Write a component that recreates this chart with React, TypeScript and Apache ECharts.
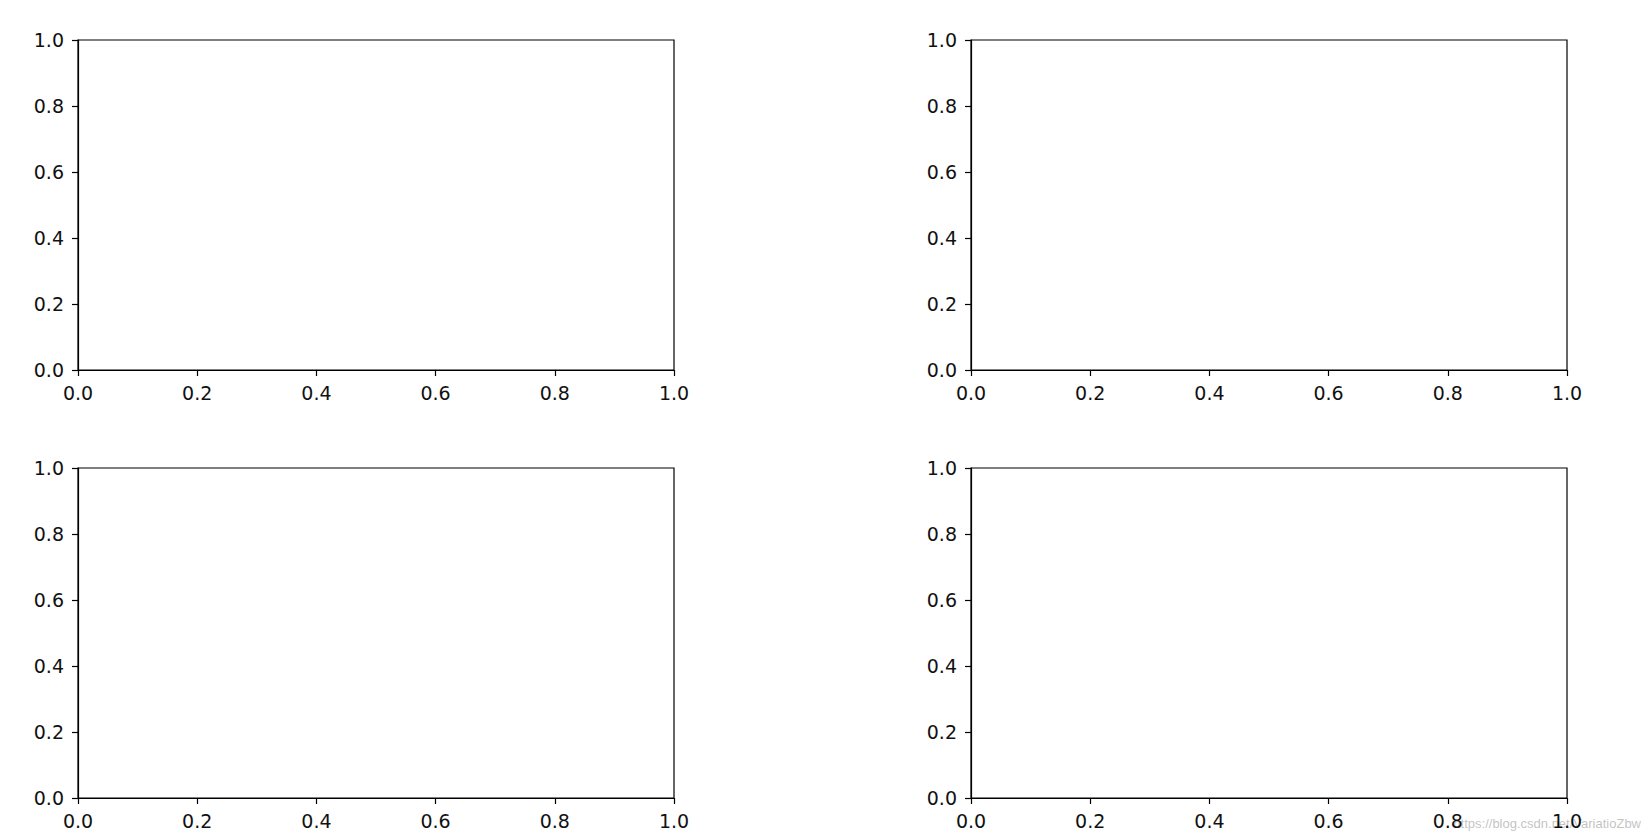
import React, { useEffect, useRef } from "react";
import * as echarts from "echarts";

const axisTicks = [0, 0.2, 0.4, 0.6, 0.8, 1.0];
const panels = ["top-left", "top-right", "bottom-left", "bottom-right"];
const watermark = "https://blog.csdn.net/VariatioZbw";

const gridPos = [
  { left: 78, top: 40 },
  { left: 971, top: 40 },
  { left: 78, top: 468 },
  { left: 971, top: 468 },
];

export default function App() {
  const ref = useRef<HTMLDivElement>(null);
  useEffect(() => {
    document.body.style.margin = "0";
    const chart = echarts.init(ref.current!, null, { renderer: "svg" });
    const font = { fontFamily: "DejaVu Sans", fontSize: 19, color: "#111" };
    const axisCommon = {
      type: "value" as const,
      min: axisTicks[0],
      max: axisTicks[axisTicks.length - 1],
      interval: axisTicks[1] - axisTicks[0],
      splitLine: { show: false },
      axisLine: { show: true, onZero: false, lineStyle: { color: "#000", width: 1.2 } },
      axisTick: { show: true, inside: false, length: 6, lineStyle: { color: "#000", width: 1.2 } },
    };
    chart.setOption({
      animation: false,
      grid: panels.map((_, i) => ({
        left: gridPos[i].left,
        top: gridPos[i].top,
        width: 596,
        height: 330,
        show: true,
        borderColor: "#000",
        borderWidth: 1.2,
        backgroundColor: "#fff",
      })),
      xAxis: panels.map((_, i) => ({
        ...axisCommon,
        gridIndex: i,
        position: "bottom",
        axisLabel: { ...font, margin: 13, formatter: (v: number) => v.toFixed(1) },
      })),
      yAxis: panels.map((_, i) => ({
        ...axisCommon,
        gridIndex: i,
        position: "left",
        axisLabel: { ...font, margin: 14, formatter: (v: number) => v.toFixed(1) },
      })),
      series: panels.map((_, i) => ({
        type: "line",
        xAxisIndex: i,
        yAxisIndex: i,
        data: [],
      })),
      graphic: [
        {
          type: "text",
          right: 9,
          bottom: 10,
          style: {
            text: watermark,
            fontFamily: "Liberation Sans",
            fontSize: 13,
            fill: "rgba(175,175,175,0.75)",
          },
        },
      ],
    });
    return () => chart.dispose();
  }, []);
  return <div ref={ref} style={{ width: 1650, height: 840 }} />;
}
